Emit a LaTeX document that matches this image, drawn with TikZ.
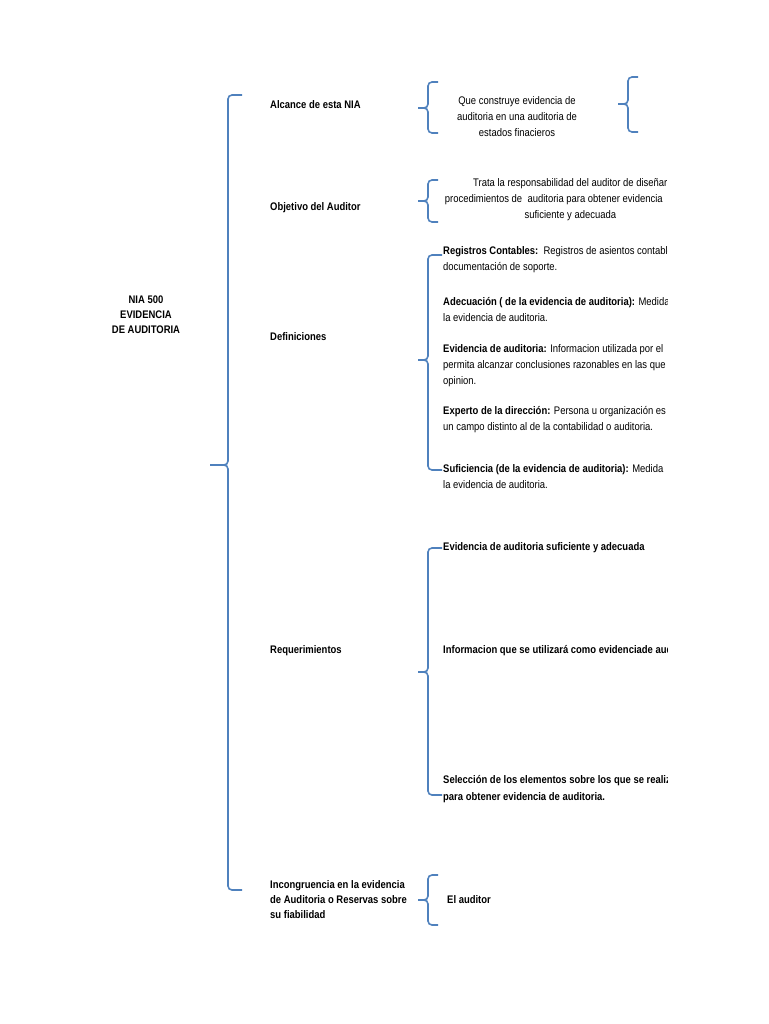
\documentclass[tikz,border=0pt]{standalone}
\usepackage{fontspec}
\setmainfont{Liberation Sans}[FakeStretch=0.86]
\definecolor{br}{RGB}{79,129,189}
\begin{document}
\begin{tikzpicture}[x=1pt,y=-1pt,
  brc/.style={draw=br,line width=1.6pt,rounded corners=4pt},
  lbl/.style={font=\fontsize{11}{15}\selectfont\bfseries,align=left,anchor=west,inner sep=0},
  txt/.style={font=\fontsize{11}{16}\selectfont,align=left,anchor=north west,inner sep=0}]
\useasboundingbox (0,0) rectangle (768,1024);
% main brace
\draw[brc] (242,95) -- (228,95) -- (228,465) -- (210,465);
\draw[brc] (210,465) -- (228,465) -- (228,890) -- (242,890);
\node[font=\fontsize{11}{15}\selectfont\bfseries,align=center] (root) at (146,315) {NIA 500\\EVIDENCIA\\DE AUDITORIA};
% second level labels
\node[lbl] (a) at (270,105) {Alcance de esta NIA};
\node[lbl] (o) at (270,208) {Objetivo del Auditor};
\node[lbl] (d) at (270,337) {Definiciones};
\node[lbl] (r) at (270,651) {Requerimientos};
\node[lbl] (i) at (270,900) {Incongruencia en la evidencia\\de Auditoria o Reservas sobre\\su fiabilidad};
% third level braces
\foreach \t/\m/\b in {82/108/133, 180/201/222, 875/900/925}{
  \draw[brc] (438,\t) -- (428,\t) -- (428,\m) -- (418,\m);
  \draw[brc] (418,\m) -- (428,\m) -- (428,\b) -- (438,\b);}
\draw[brc] (638,77) -- (628,77) -- (628,104) -- (618,104);
\draw[brc] (618,104) -- (628,104) -- (628,132) -- (638,132);
\draw[brc] (442,255) -- (428,255) -- (428,360) -- (418,360);
\draw[brc] (418,360) -- (428,360) -- (428,470) -- (442,470);
\draw[brc] (442,548) -- (428,548) -- (428,672) -- (418,672);
\draw[brc] (418,672) -- (428,672) -- (428,795) -- (442,795);
% third level texts
\node[font=\fontsize{11}{16}\selectfont,align=center] (a1) at (517,117) {Que construye evidencia de\\auditoria en una auditoria de\\estados finacieros};
\begin{scope}
\clip (400,0) rectangle (667,1024);
\node[font=\fontsize{11}{16}\selectfont,align=center,anchor=north west,inner sep=0] (o1) at (440,178) {\quad\quad\quad Trata la responsabilidad del auditor de diseñar\\procedimientos de\ \ auditoria para obtener evidencia\\\quad\quad\quad suficiente y adecuada};
\node[txt] (d1) at (443,246) {\textbf{Registros Contables:}\ \ Registros de asientos contables\\documentación de soporte.};
\node[txt] (d2) at (443,297) {\textbf{Adecuación ( de la evidencia de auditoria):} Medida\\la evidencia de auditoria.};
\node[txt] (d3) at (443,344) {\textbf{Evidencia de auditoria:} Informacion utilizada por el\\permita alcanzar conclusiones razonables en las que\\opinion.};
\node[txt] (d4) at (443,406) {\textbf{Experto de la dirección:} Persona u organización es\\un campo distinto al de la contabilidad o auditoria.};
\node[txt] (d5) at (443,464) {\textbf{Suficiencia (de la evidencia de auditoria):} Medida\\la evidencia de auditoria.};
\node[lbl] (r1) at (443,548) {Evidencia de auditoria suficiente y adecuada};
\node[lbl] (r2) at (443,651) {Informacion que se utilizará como evidenciade auditoria};
\node[lbl,font=\fontsize{11}{17}\selectfont\bfseries] (r3) at (443,789) {Selección de los elementos sobre los que se realizan\\para obtener evidencia de auditoria.};
\end{scope}
\node[lbl] (i1) at (447,900) {El auditor};
\end{tikzpicture}
\end{document}
